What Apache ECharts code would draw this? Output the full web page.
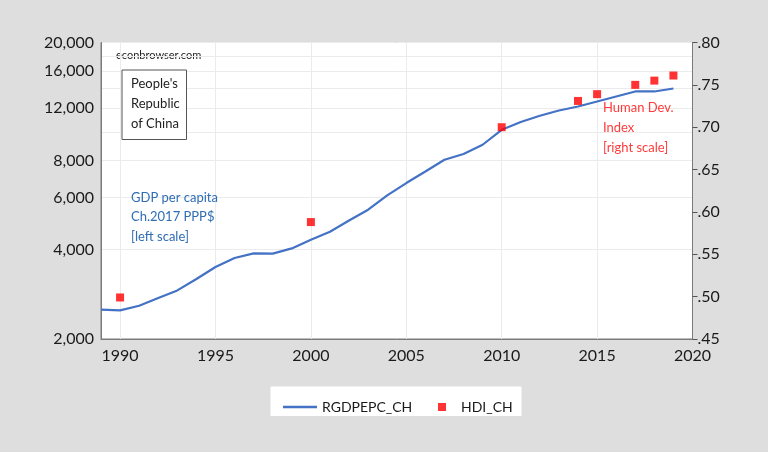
<!DOCTYPE html>
<html>
<head>
<meta charset="utf-8">
<script src="https://cdn.jsdelivr.net/npm/echarts@6/dist/echarts.min.js"></script>
<style>
html,body{margin:0;padding:0;background:#dedede;}
#c{width:768px;height:452px;}
</style>
</head>
<body>
<div id="c"></div>
<script>
// ---- data ----
const gdpYears = [1989,1990,1991,1992,1993,1994,1995,1996,1997,1998,1999,2000,2001,2002,2003,2004,2005,2006,2007,2008,2009,2010,2011,2012,2013,2014,2015,2016,2017,2018,2019];
const gdpValues = [2511,2497,2590,2750,2917,3187,3498,3752,3888,3880,4042,4323,4600,5022,5458,6100,6714,7346,8044,8410,9040,10156,10790,11322,11798,12170,12652,13154,13674,13674,13996];
const hdiYears = [1990,2000,2010,2014,2015,2017,2018,2019];
const hdiValues = [0.499,0.588,0.700,0.731,0.739,0.750,0.755,0.761];
const xTickLabels = [1990,1995,2000,2005,2010,2015,2020];
const leftTickLabels = [2000,4000,6000,8000,12000,16000,20000];
const leftGridValues = [2000,4000,6000,8000,10000,12000,14000,16000,18000,20000];

const FONT = 'Lato';
const chart = echarts.init(document.getElementById('c'), null, {renderer:'canvas'});
const lg = Math.log10;

chart.setOption({
  backgroundColor: '#dedede',
  animation: false,
  textStyle: {fontFamily: FONT},
  grid: {left: 101, right: 75.5, top: 42.5, bottom: 113, show: true, backgroundColor: '#ffffff', borderColor: '#7a7a7a', borderWidth: 1},
  xAxis: {
    type: 'value', min: 1989, max: 2020,
    axisLine: {show: true, lineStyle: {color: '#7a7a7a'}},
    axisTick: {show: false, customValues: xTickLabels},
    axisLabel: {customValues: xTickLabels, color: '#1a1a1a', fontSize: 16, margin: 9, fontFamily: FONT, formatter: v => String(v)},
    splitLine: {show: true, lineStyle: {color: '#ebebeb', width: 1}}
  },
  yAxis: [{
    type: 'value', position: 'left',
    min: lg(2000), max: lg(20000),
    axisLine: {show: true, lineStyle: {color: '#7a7a7a'}},
    axisTick: {show: false, customValues: leftGridValues.map(lg)},
    axisLabel: {customValues: leftTickLabels.map(lg), color: '#1a1a1a', fontSize: 16, margin: 7, fontFamily: FONT,
      formatter: v => Math.round(Math.pow(10, v)).toLocaleString('en-US')},
    splitLine: {show: true, lineStyle: {color: '#ebebeb', width: 1}}
  }, {
    type: 'value', position: 'right',
    min: 0.45, max: 0.80, interval: 0.05,
    axisLine: {show: true, lineStyle: {color: '#7a7a7a'}},
    axisTick: {show: true, inside: false, length: 5, lineStyle: {color: '#555'}},
    axisLabel: {color: '#1a1a1a', fontSize: 16, margin: 5, fontFamily: FONT,
      formatter: v => v.toFixed(2).replace(/^0/, '')},
    splitLine: {show: false}
  }],
  legend: [{
    data: [{name: 'RGDPEPC_CH', icon: 'path://M0,0H34V2.4H0Z'}], left: 278, top: 395, itemWidth: 34, itemHeight: 14,
    textStyle: {fontSize: 14, color: '#1a1a1a', fontFamily: FONT}, selectedMode: false
  }, {
    data: [{name: 'HDI_CH', icon: 'rect'}], left: 433, top: 395, itemWidth: 8, itemHeight: 8,
    textStyle: {fontSize: 14, color: '#1a1a1a', fontFamily: FONT, padding: [0, 0, 0, 10]}, selectedMode: false
  }],
  graphic: [
    {type: 'rect', left: 270.5, top: 386.5, z: -1, shape: {width: 251, height: 29.5}, style: {fill: '#ffffff'}},
    {type: 'text', left: 116, top: 49.5, style: {text: 'econbrowser.com', fontSize: 11, fontFamily: FONT, fill: '#222'}},
    {type: 'rect', left: 121.5, top: 69.5, z: 10, shape: {width: 64.5, height: 69.5}, style: {fill: '#ffffff', stroke: '#555', lineWidth: 1}},
    {type: 'text', left: 131, top: 74, z: 11, style: {text: "People's\nRepublic\nof China", fontSize: 13, lineHeight: 20, fontFamily: FONT, fill: '#222'}},
    {type: 'text', left: 131, top: 187.5, z: 11, style: {text: 'GDP per capita\nCh.2017 PPP$\n[left scale]', fontSize: 13, lineHeight: 19.7, fontFamily: FONT, fill: '#2f6db5'}},
    {type: 'text', left: 603, top: 97.5, z: 11, style: {text: 'Human Dev.\nIndex\n[right scale]', fontSize: 13, lineHeight: 20, fontFamily: FONT, fill: '#ff3b3b'}}
  ],
  series: [{
    name: 'RGDPEPC_CH', type: 'line', yAxisIndex: 0, symbol: 'none', showSymbol: false,
    lineStyle: {color: '#4472c4', width: 2.2}, itemStyle: {color: '#4472c4'},
    data: gdpYears.map((y, i) => [y, lg(gdpValues[i])]), z: 3
  }, {
    name: 'HDI_CH', type: 'scatter', yAxisIndex: 1, symbol: 'rect', symbolSize: 8,
    itemStyle: {color: '#ff0000'},
    data: hdiYears.map((y, i) => [y, hdiValues[i]]), z: 4
  }]
});
</script>
</body>
</html>
